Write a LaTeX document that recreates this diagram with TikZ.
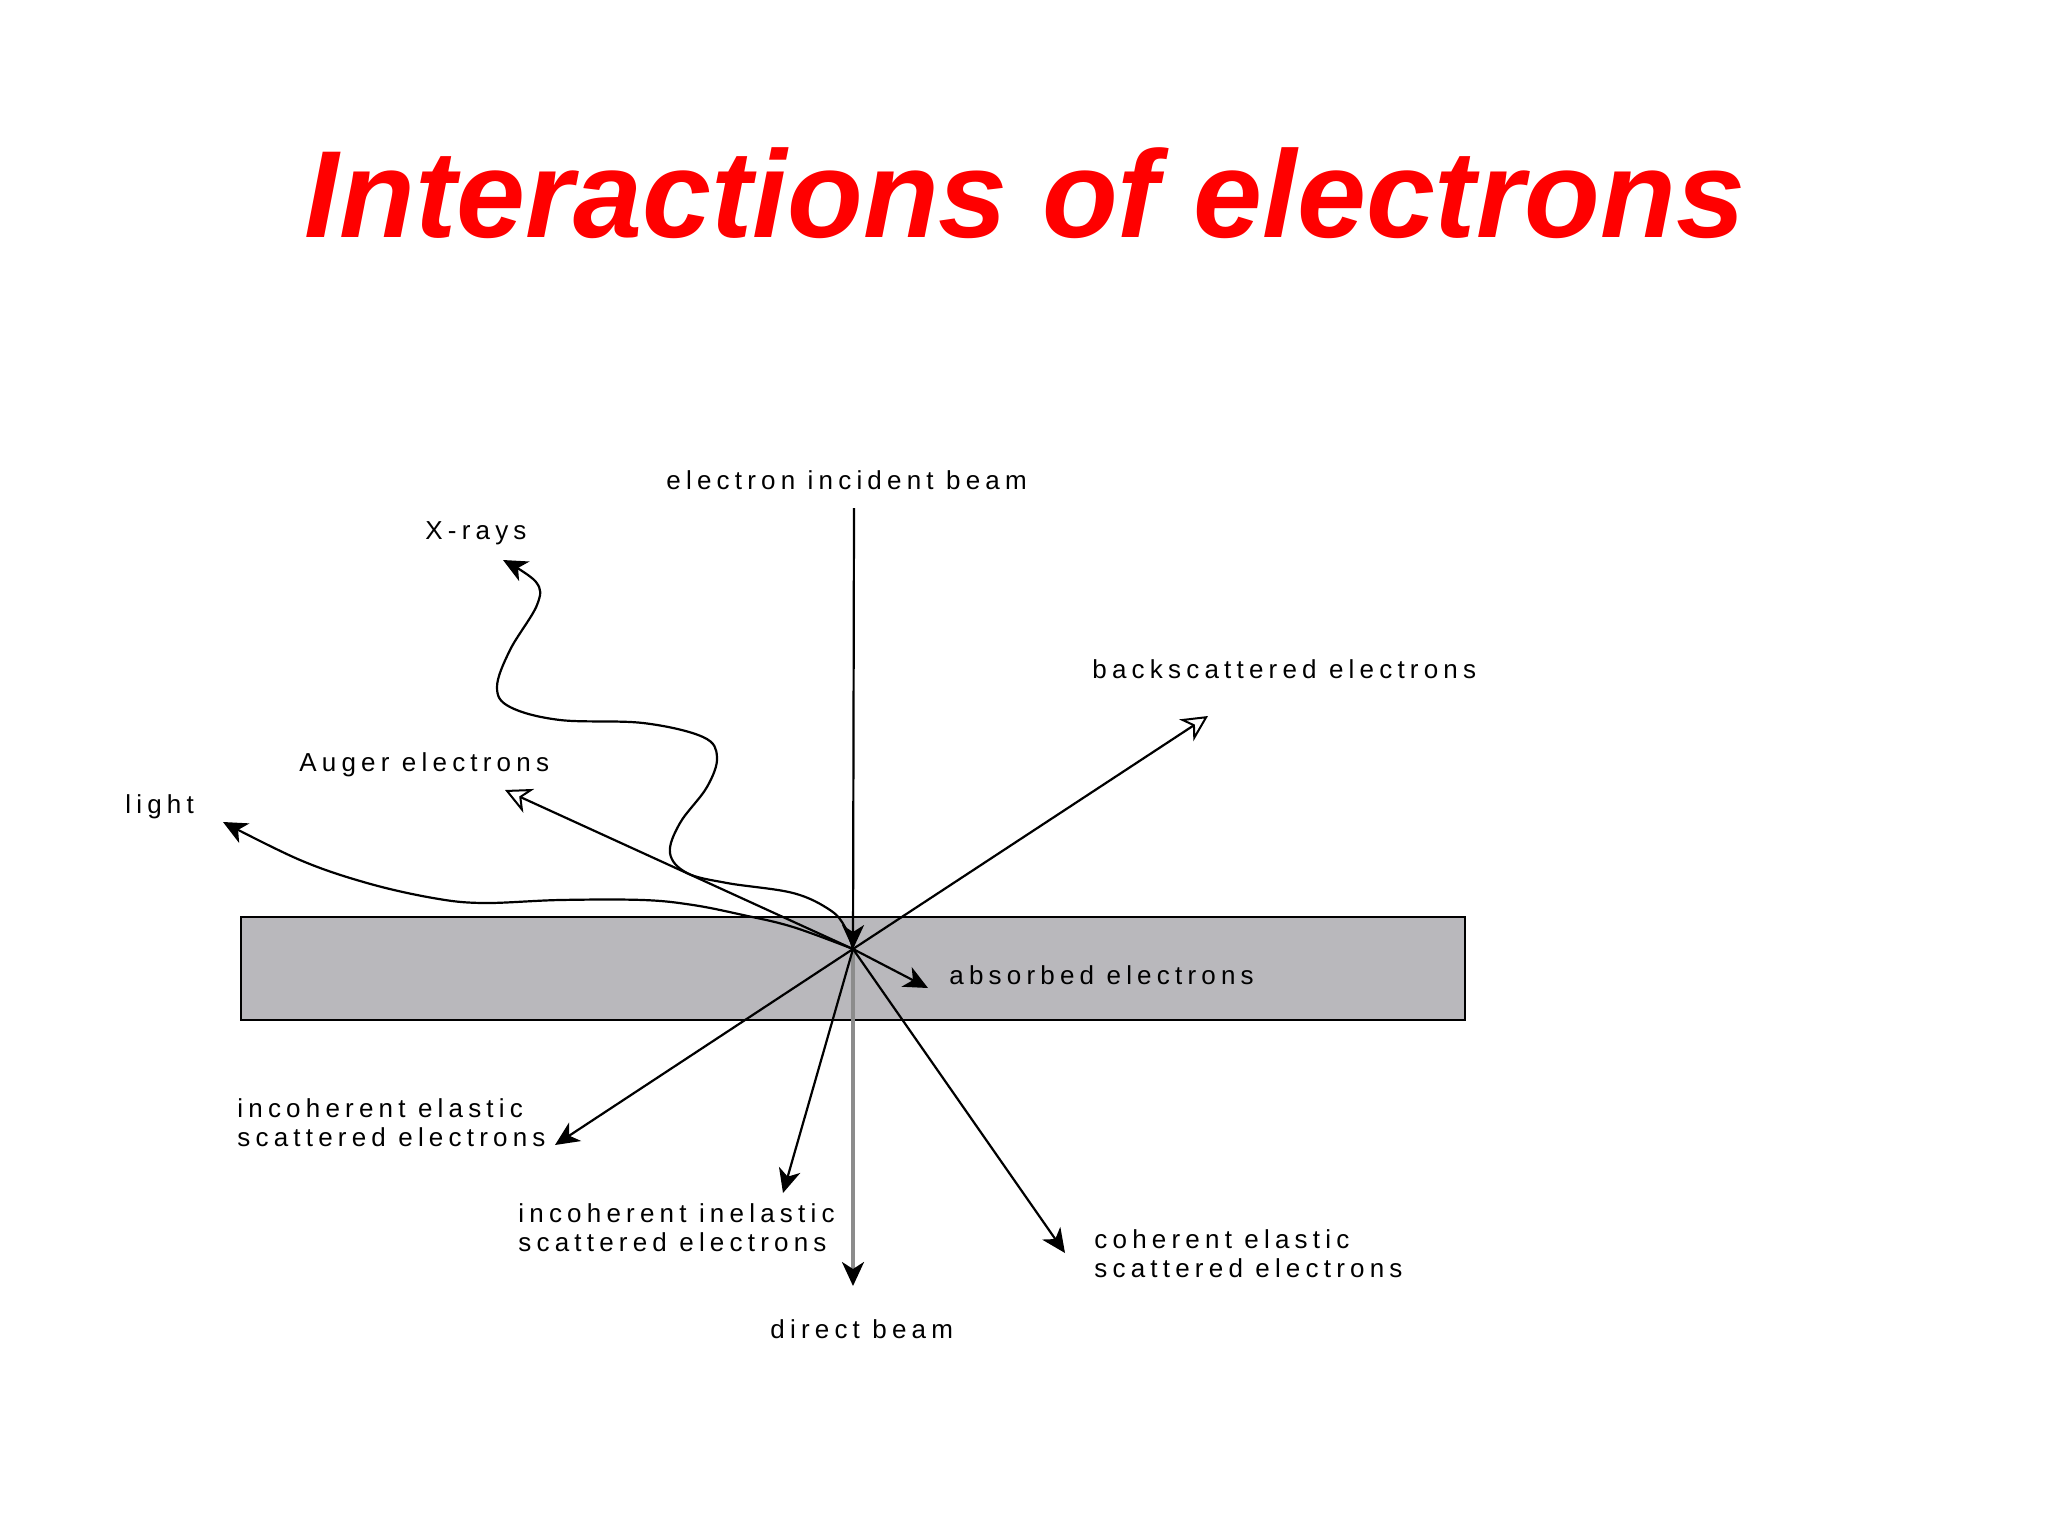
\documentclass[tikz,border=0pt]{standalone}
\usepackage{fontspec}
\setmainfont{Liberation Sans}
\newfontfamily\lblfont[LetterSpace=20]{Liberation Sans}
\newfontfamily\ttlfont{Liberation Sans}
\usetikzlibrary{arrows.meta}
\definecolor{slabgray}{RGB}{185,184,188}
\definecolor{beamgray}{RGB}{140,140,140}
\tikzset{
  lbl/.style={inner sep=0pt, font=\lblfont\fontsize{13}{14.5}\selectfont, anchor=base west},
  ray/.style={line width=1.1pt, -{Stealth[length=12pt,width=11pt,inset=3.5pt]}},
  oray/.style={line width=1.1pt, -{Stealth[open,length=13pt,width=13pt,inset=4pt,line width=1pt]}},
  wave/.style={line width=1.1pt, -{Stealth[length=12pt,width=11pt,inset=3.5pt]}},
}
\begin{document}
\begin{tikzpicture}[x=0.5pt,y=-0.5pt]
\useasboundingbox (0,0) rectangle (2048,1536);
\fill[white] (0,0) rectangle (2048,1536);
% title
\node[inner sep=0pt, anchor=base, text=red, font=\ttlfont\bfseries\itshape\fontsize{62}{70}\selectfont] (title) at (1025,237) {Interactions of electrons};
% slab
\node[draw, line width=1pt, fill=slabgray, minimum width=612pt, minimum height=51.5pt, inner sep=0pt, anchor=north west] (slab) at (240,916) {};
% points
\coordinate (O) at (853,949);
\coordinate (inc) at (854,508);
\coordinate (xr) at (503,560);
\coordinate (au) at (505,790);
\coordinate (li) at (223,822);
\coordinate (bs) at (1208,716);
\coordinate (ab) at (928,988);
\coordinate (ie) at (555,1145);
\coordinate (ii) at (783,1193);
\coordinate (ce) at (1065,1253);
\coordinate (db) at (853,1286);
% rays
\draw[line width=1.6pt, draw=beamgray, -{Stealth[length=12pt,width=11pt,inset=3.5pt,black]}] (O) -- (db);
\draw[ray] (inc) -- (O);
\draw[oray] (O) -- (au);
\draw[oray] (O) -- (bs);
\draw[ray] (O) -- (ab);
\draw[ray] (O) -- (ie);
\draw[ray] (O) -- (ii);
\draw[ray] (O) -- (ce);
\draw[wave] plot[smooth, tension=0.6] coordinates {(O) (845,927) (830,910) (793,893) (727,883) (687,873) (670,853) (680,823) (707,787) (717,757) (703,737) (643,723) (560,720) (510,707) (497,687) (510,650) (537,605) (536,582) (xr)};
\draw[wave] plot[smooth, tension=0.6] coordinates {(O) (793,927) (743,915) (693,905) (643,900) (560,900) (483,903) (433,898) (367,883) (300,860) (li)};
% labels
\node[lbl] (tinc) at (666,489) {electron incident beam};
\node[lbl] (txr) at (425,539) {X-rays};
\node[lbl] (tbs) at (1092,678) {backscattered electrons};
\node[lbl] (tau) at (299,771) {Auger electrons};
\node[lbl] (tli) at (125,813) {light};
\node[lbl] (tab) at (949,984) {absorbed electrons};
\node[lbl] (tie) at (237,1117) {\begin{tabular}[t]{@{}l@{}}incoherent elastic\\scattered electrons\end{tabular}};
\node[lbl] (tii) at (518,1222) {\begin{tabular}[t]{@{}l@{}}incoherent inelastic\\scattered electrons\end{tabular}};
\node[lbl] (tce) at (1094,1248) {\begin{tabular}[t]{@{}l@{}}coherent elastic\\scattered electrons\end{tabular}};
\node[lbl] (tdb) at (770,1338) {direct beam};
\end{tikzpicture}
\end{document}
